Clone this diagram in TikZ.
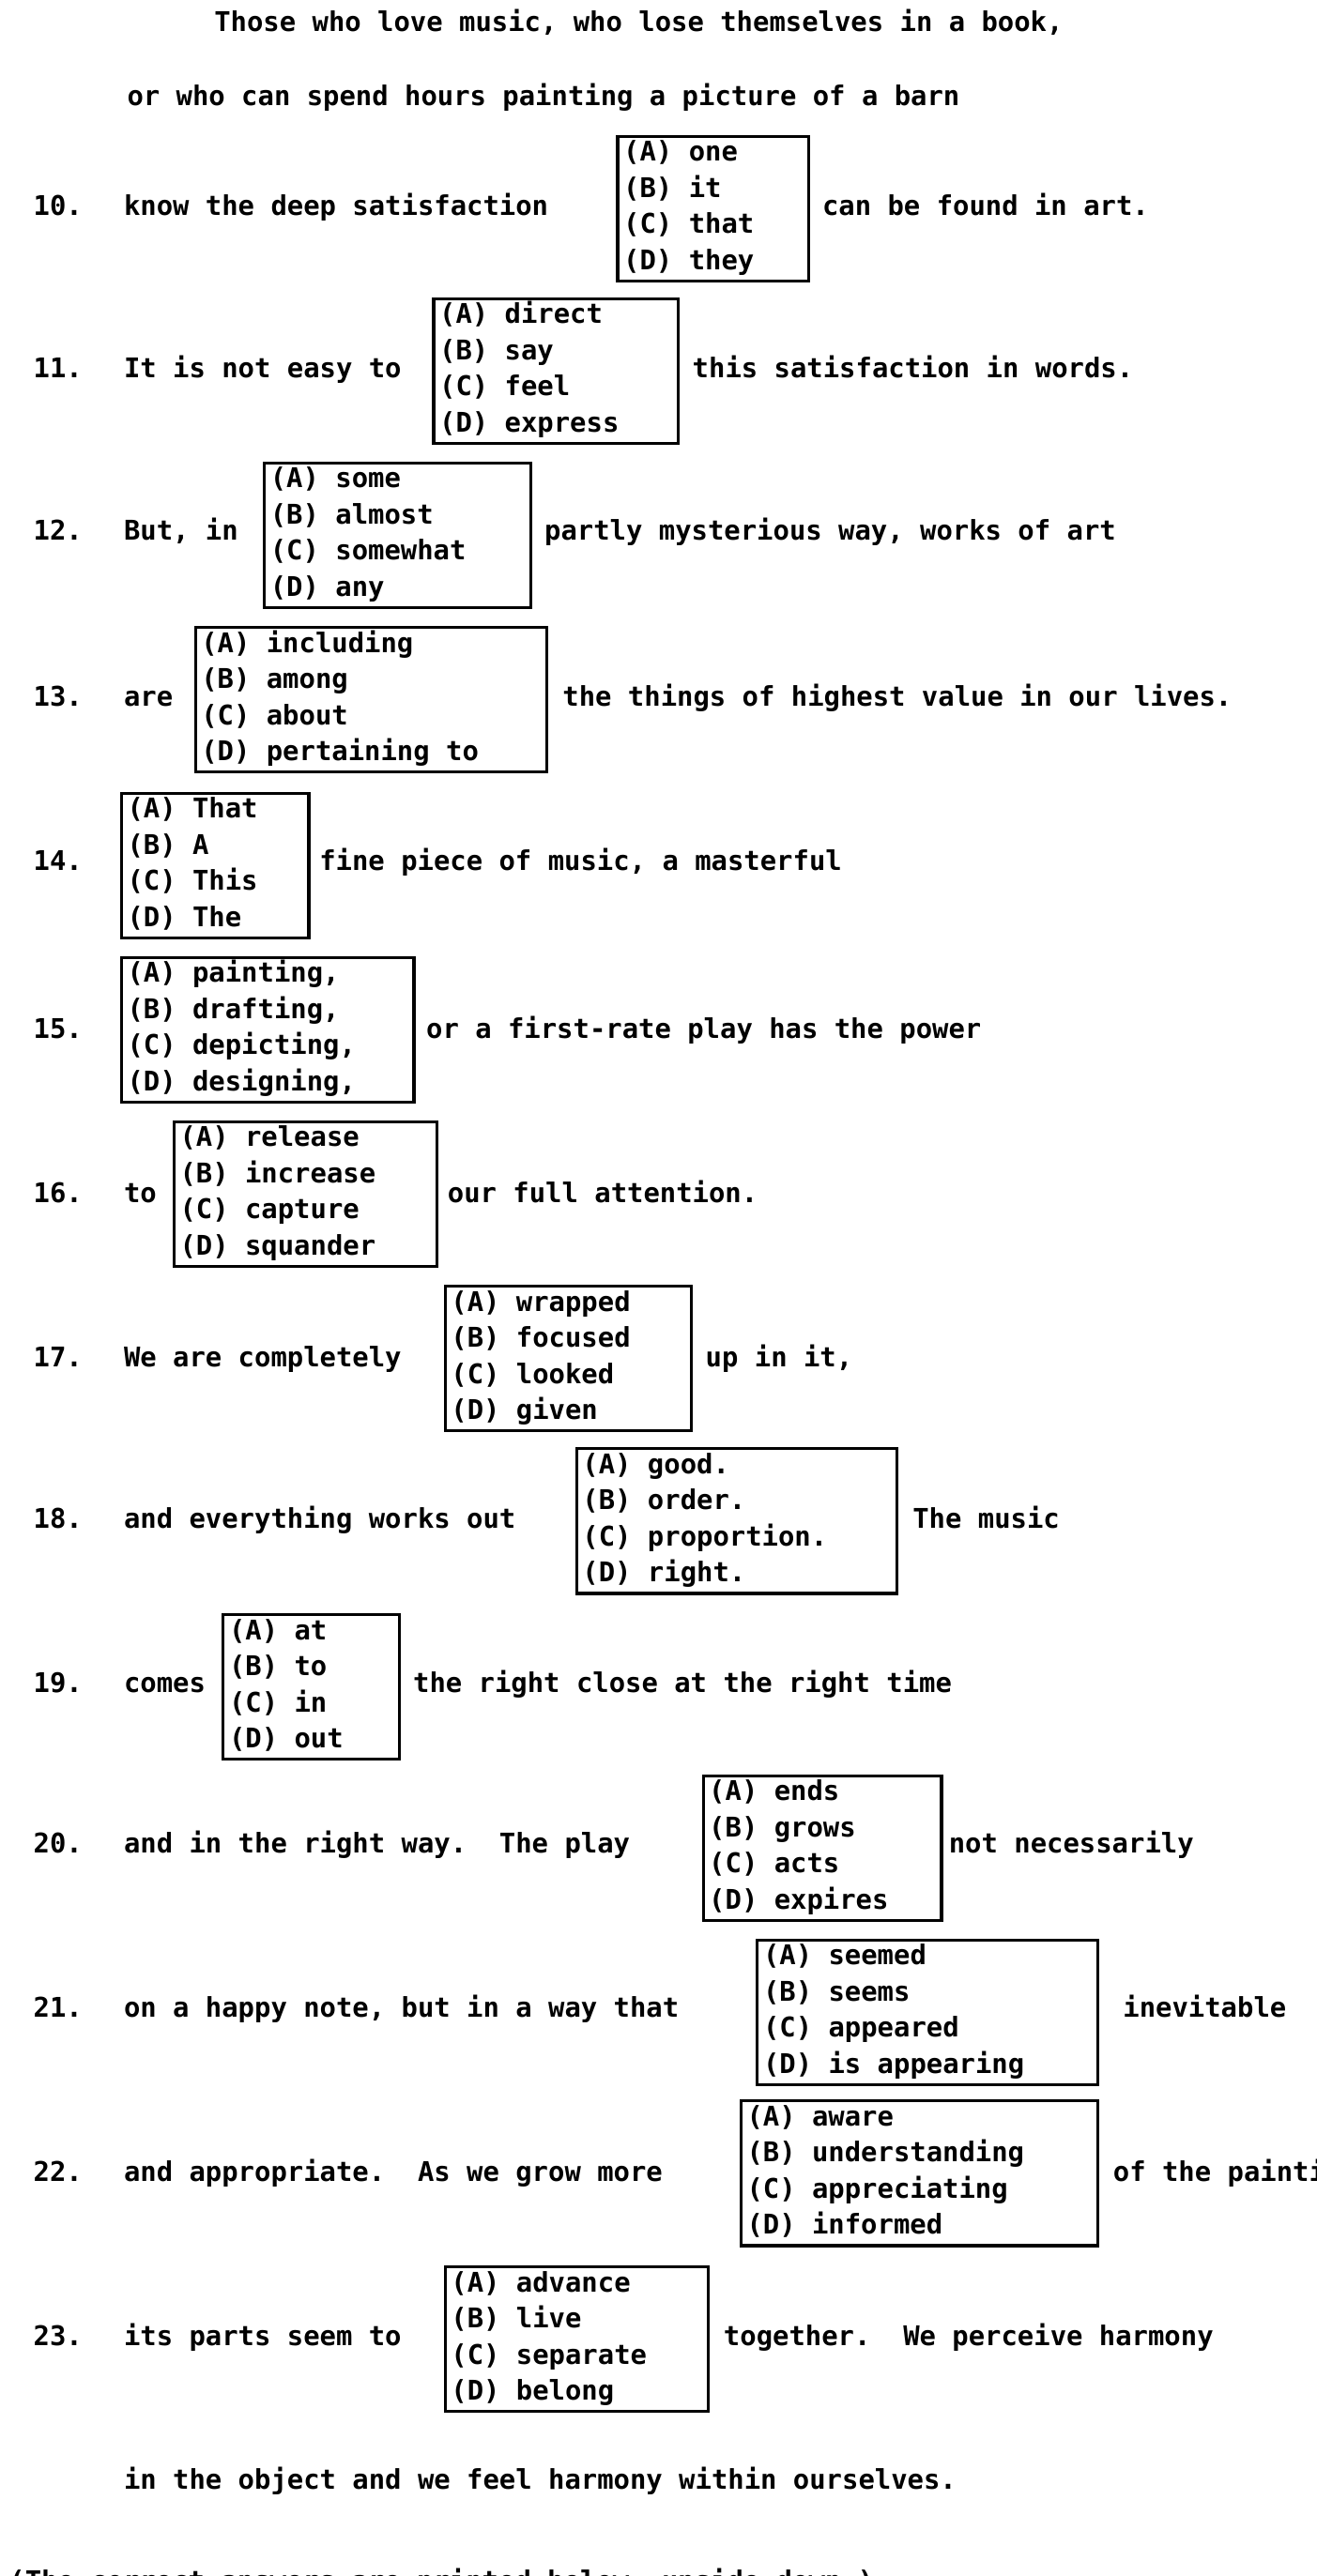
\documentclass[tikz,border=0pt]{standalone}
\usepackage{fontspec}
\setmonofont{DejaVu Sans Mono}
\begin{document}
\begin{tikzpicture}[x=0.5pt,y=-0.5pt,
  txt/.style={font=\ttfamily\fontsize{8.25}{10}\selectfont\bfseries, inner sep=0pt, anchor=base west},
  chbox/.style={draw, line width=0.9pt, inner sep=0pt, anchor=north west, minimum height=44pt}]
\clip (0,0) rectangle (801,1568);
\useasboundingbox (0,0) rectangle (801,1568);
\fill[white] (0,0) rectangle (801,1568);
\node[txt] (l1) at (130,19) {Those who love music, who lose themselves in a book,};
\node[txt] (l2) at (77,64) {or who can spend hours painting a picture of a barn};
\foreach \n/\y/\pre/\bl/\br/\bt/\ca/\cb/\cc/\cd/\px/\post in {
 10/126/{know the deep satisfaction}/375/491/82/one/it/that/they/500/{can be found in art.},
 11/225/{It is not easy to}/263/412/181/direct/say/feel/express/421/{this satisfaction in words.},
 12/324/{But, in}/160/322/281/some/almost/somewhat/any/331/{partly mysterious way, works of art},
 13/425/{are}/118/332/381/including/among/about/{pertaining to}/342/{the things of highest value in our lives.},
 14/525/{}/73/187/482/That/A/This/The/194/{fine piece of music, a masterful},
 15/627/{}/73/251/582/{painting,}/{drafting,}/{depicting,}/{designing,}/259/{or a first-rate play has the power},
 16/727/{to}/105/265/682/release/increase/capture/squander/272/{our full attention.},
 17/827/{We are completely}/270/420/782/wrapped/focused/looked/given/429/{up in it,},
 18/925/{and everything works out}/350/545/881/{good.}/{order.}/{proportion.}/{right.}/555/{The music},
 19/1025/{comes}/135/242/982/at/to/in/out/251/{the right close at the right time},
 20/1123/{and in the right way.\ \ The play}/427/572/1080/ends/grows/acts/expires/577/{not necessarily},
 21/1223/{on a happy note, but in a way that}/460/667/1180/seemed/seems/appeared/{is appearing}/683/{inevitable},
 22/1323/{and appropriate.\ \ As we grow more}/450/667/1278/aware/understanding/appreciating/informed/677/{of the painting,},
 23/1423/{its parts seem to}/270/430/1379/advance/live/separate/belong/440/{together.\ \ We perceive harmony}}
{
  \pgfmathsetmacro\bw{(\br-\bl)*0.5}
  \node[txt] (n\n) at (20,\y+5) {\n.};
  \node[txt] (p\n) at (75,\y+5) {\pre};
  \node[chbox, minimum width=\bw pt] (b\n) at (\bl,\bt) {};
  \node[txt] (a\n) at (\bl+4,\bt+16) {(A) \ca};
  \node[txt] (c\n) at (\bl+4,\bt+38) {(B) \cb};
  \node[txt] (d\n) at (\bl+4,\bt+60) {(C) \cc};
  \node[txt] (e\n) at (\bl+4,\bt+82) {(D) \cd};
  \node[txt] (q\n) at (\px,\y+5) {\post};
}
\node[txt] (l3) at (75,1515) {in the object and we feel harmony within ourselves.};
\node[txt] (l4) at (5,1577) {(The correct answers are printed below, upside down.)};
\end{tikzpicture}
\end{document}
